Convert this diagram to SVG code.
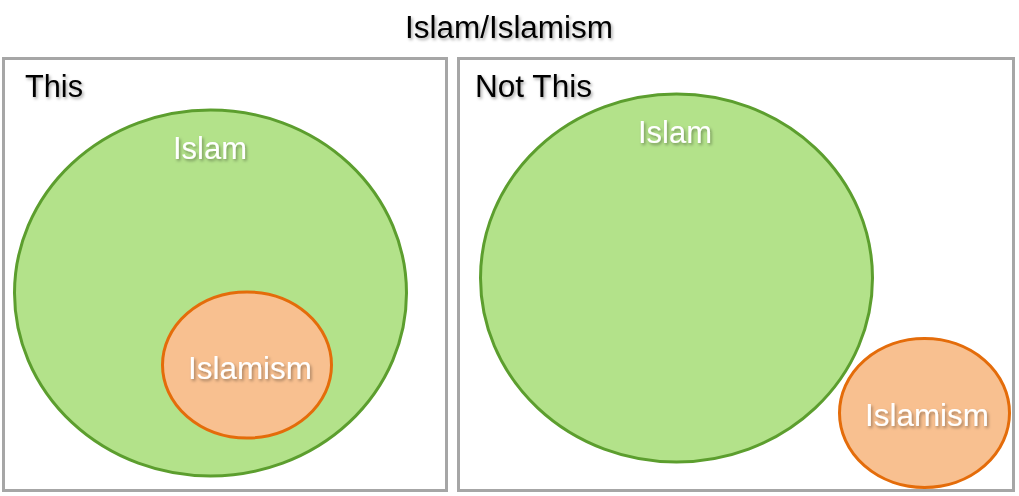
<svg xmlns="http://www.w3.org/2000/svg" width="1019" height="496" viewBox="0 0 1019 496">
<defs>
<filter id="sh" x="-20%" y="-30%" width="140%" height="170%">
<feDropShadow dx="1.5" dy="2" stdDeviation="1.5" flood-color="#000" flood-opacity="0.35"/>
</filter>
</defs>
<style>
.box{fill:#fff;stroke:#a6a6a6;stroke-width:3}
.green{fill:#b3e28a;stroke:#5c9e2e;stroke-width:3}
.orange{fill:#f8c090;stroke:#e46c0a;stroke-width:3}
.dark{font-family:"Liberation Sans",Arial,sans-serif;font-size:31px;fill:#000;filter:url(#sh)}
.light{font-family:"Liberation Sans",Arial,sans-serif;font-size:31px;fill:#fff;filter:url(#sh)}
</style>
<rect width="1019" height="496" fill="#fff"/>
<text class="dark" x="405" y="38" textLength="208" lengthAdjust="spacingAndGlyphs">Islam/Islamism</text>
<g id="panel-this">
<rect class="box" x="3.5" y="58.5" width="443" height="432"/>
<text class="dark" x="25" y="97" textLength="58" lengthAdjust="spacingAndGlyphs">This</text>
</g>
<g id="panel-not-this">
<rect class="box" x="458.5" y="58.5" width="555" height="432"/>
<text class="dark" x="475" y="97" textLength="117" lengthAdjust="spacingAndGlyphs">Not This</text>
</g>
<g id="islam-left">
<ellipse class="green" cx="210.5" cy="293" rx="196" ry="183"/>
<text class="light" x="173" y="159" textLength="74" lengthAdjust="spacingAndGlyphs">Islam</text>
</g>
<g id="islamism-left">
<ellipse class="orange" cx="247" cy="365" rx="84.5" ry="73"/>
<text class="light" x="188" y="379" textLength="124" lengthAdjust="spacingAndGlyphs">Islamism</text>
</g>
<g id="islam-right">
<ellipse class="green" cx="676.5" cy="278" rx="196" ry="184"/>
<text class="light" x="638" y="143" textLength="74" lengthAdjust="spacingAndGlyphs">Islam</text>
</g>
<g id="islamism-right">
<ellipse class="orange" cx="924.5" cy="413" rx="85" ry="74.5"/>
<text class="light" x="865" y="426" textLength="124" lengthAdjust="spacingAndGlyphs">Islamism</text>
</g>
<g id="connectors"/>
</svg>
